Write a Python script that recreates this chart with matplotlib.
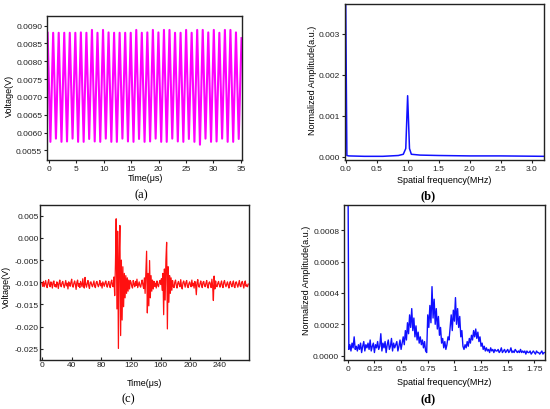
import numpy as np
import matplotlib
matplotlib.use('Agg')
from matplotlib import pyplot as plt
from matplotlib.ticker import FormatStrFormatter, FuncFormatter

plt.rcParams['font.family'] = ['Liberation Sans', 'DejaVu Sans']
plt.rcParams['axes.unicode_minus'] = False

# (a) time signal: alternating peaks / troughs, values in 1e-5 V
a_t0, a_step = -0.24, 0.505
a_peaks = [880, 880, 880, 880, 880, 880, 881, 880, 888, 880, 888, 881,
           880, 880, 880, 880, 888, 880, 881, 888, 881, 888, 888, 880,
           880, 888, 880, 888, 888, 881, 888, 880, 888, 888, 881, 865]
a_troughs = [574, 583, 574, 575, 583, 574, 574, 582, 575, 574, 583, 574,
             574, 583, 575, 574, 582, 574, 575, 583, 574, 574, 583, 575,
             574, 582, 574, 566, 583, 574, 575, 583, 574, 574, 582]

# (b) spectrum of (a)
b_freq = [0.0, 0.02, 0.05, 0.3, 0.6, 0.85, 0.93, 0.97, 1.0, 1.03, 1.06,
          1.2, 1.5, 2.0, 2.5, 3.2]
b_amp = [0.0040, 0.00003, 0.00002, 0.00001, 0.00001, 0.00003, 0.00006,
         0.0002, 0.00149, 0.0002, 0.00006, 0.00004, 0.00003, 0.00002,
         0.00002, 0.00001]

# (c) received signal, 1 us per sample, values in mV
c_mv = [
    -10.2, -10.9, -9.8, -11.0, -10.3, -9.6, -10.8, -11.2, -10.1, -9.4, -10.6, -11.0, -9.9, -10.4, -11.3, -10.0, -9.7, -10.9, -10.5, -11.1,
    -9.9, -10.3, -11.4, -10.2, -9.5, -10.7, -11.0, -10.1, -9.8, -10.6, -11.2, -10.4, -9.6, -10.8, -10.2, -11.5, -9.9, -10.3, -10.9, -10.0,
    -9.3, -10.8, -11.1, -10.2, -9.7, -10.5, -11.6, -10.0, -9.5, -10.9, -10.3, -11.2, -9.8, -10.4, -11.0, -9.2, -10.7, -11.3, -8.9, -10.5,
    -11.1, -10.2, -9.6, -10.8, -11.4, -10.0, -9.9, -10.6, -11.0, -10.3, -9.7, -10.9, -11.2, -10.1, -9.8, -10.5, -11.0, -10.4, -9.6, -10.8,
    -10.2, -11.3, -9.9, -10.4, -10.9, -10.1, -9.7, -10.6, -11.1, -10.3, -9.8, -10.7, -11.2, -10.0, -9.5, -10.8, -11.0, -8.8, -13.0, -6.0,
    4.3, -16.0, 1.5, -24.9, -4.5, 2.8, -22.0, -5.0, -18.5, -6.5, -15.5, -8.0, -13.5, -8.5, -12.5, -9.0, -12.0, -9.5, -11.5, -9.6,
    -10.0, -10.9, -11.3, -9.6, -10.4, -11.0, -9.8, -10.7, -9.3, -11.2, -10.5, -9.9, -10.8, -11.1, -10.2, -9.5, -10.6, -11.4, -9.0, -12.5,
    -7.5, -3.0, -16.9, -8.0, -15.3, -5.1, -13.5, -8.5, -12.0, -9.5,
    -11.5, -9.8, -10.9, -10.2, -11.3, -9.7, -10.6, -11.0, -10.1, -9.6,
    -10.5, -9.2, -11.8, -8.0, -17.3, -7.0, -14.0, -5.1, -1.0, -20.5, -6.5, -14.5, -8.5, -12.5, -9.0, -11.8,
    -9.6, -10.9, -11.2, -10.0, -9.5, -10.7, -11.3, -10.2, -9.8, -10.6, -11.0, -9.4, -10.8, -11.5, -10.1, -9.7, -10.4, -11.1, -10.0, -9.6, -10.9, -11.2, -10.3, -9.9,
    -10.6, -11.0, -9.5, -10.8, -10.2, -11.3, -9.8, -10.5, -12.8, -10.0, -9.4, -10.9, -11.1, -10.3, -9.7, -10.6, -11.2, -10.0, -9.8, -10.7,
    -11.0, -10.2, -9.6, -10.9, -11.3, -10.1, -9.9, -10.5, -11.2, -9.3, -10.8, -14.1, -8.6, -11.5, -9.7, -10.9, -11.0, -10.2, -9.8, -10.6,
    -11.1, -10.3, -9.7, -10.8, -11.2, -10.0, -9.6, -10.5, -11.0, -10.4, -9.9, -10.7, -11.3, -10.1, -9.8, -10.6, -11.0, -10.2, -9.7, -10.9,
    -11.2, -10.0, -9.9, -10.6, -11.1, -10.3, -9.6, -10.8, -11.0, -10.1, -9.8, -10.5, -11.3, -10.2, -9.7, -10.9, -10.6, -11.0, -10.4,
]

# (d) spectrum of (c), 0.01 MHz per sample, values in 1e-5
d_amp = [
    150, 4, 7, 3, 8, 5, 12, 4, 6, 3,
    7, 4, 8, 2, 6, 9, 3, 7, 5, 8,
    4, 10, 3, 6, 8, 2, 7, 5, 9, 4,
    6, 14, 3, 8, 5, 9, 2, 7, 10, 4,
    6, 11, 3, 8, 5, 7, 9, 3, 6, 10,
    4, 8, 12, 7, 16, 10, 21, 14, 26, 18,
    30, 16, 24, 12, 19, 10, 15, 8, 12, 7,
    10, 5, 9, 3, 2, 26, 18, 32, 21, 44,
    24, 36, 20, 30, 17, 25, 13, 18, 8, 11,
    5, 9, 4, 7, 12, 10, 18, 26, 16, 29,
    22, 37, 20, 30, 18, 25, 12, 16, 6, 4,
    7, 5, 9, 6, 11, 8, 13, 10, 16, 12,
    17, 11, 15, 9, 12, 6, 8, 4, 6, 3,
    5, 3, 4, 2, 5, 3, 4, 2, 4, 3,
    3, 4, 2, 3, 5, 2, 3, 4, 2, 3,
    4, 2, 3, 5, 2, 3, 2, 4, 3, 2,
    3, 2, 4, 2, 3, 2, 3, 1, 3, 2,
    2, 3, 1, 2, 3, 2, 1, 3, 2, 2,
    1, 2, 3, 1, 2, 2,
]

fig = plt.figure(figsize=(5.5, 4.1), dpi=100)


def style(ax, direction='out'):
    for s in ax.spines.values():
        s.set_linewidth(1.0)
        s.set_color('#222222')
    ax.tick_params(direction=direction, length=2.5, width=0.8, labelsize=6,
                   pad=1, colors='#222222')


# (a)
ax1 = fig.add_axes([0.0855, 0.6073, 0.3545, 0.3512])
a_vals = []
for i in range(len(a_peaks)):
    a_vals.append(a_peaks[i])
    if i < len(a_troughs):
        a_vals.append(a_troughs[i])
a_vals = np.array(a_vals) * 1e-5
a_time = a_t0 + np.arange(len(a_vals)) * a_step
ax1.plot(a_time, a_vals, color='#ff00ff', lw=1.5)
ax1.set_xlim(-0.35, 35.2)
ax1.set_ylim(0.00523, 0.00927)
ax1.set_xticks(np.arange(0, 36, 5))
ax1.set_yticks(np.arange(0.0055, 0.00901, 0.0005))
ax1.yaxis.set_major_formatter(FormatStrFormatter('%.4f'))
ax1.set_xlabel('Time(\u03bcs)', fontsize=6.5)
ax1.set_ylabel('Voltage(V)', fontsize=6.5)
ax1.xaxis.set_label_coords(0.506, -0.09)
ax1.yaxis.set_label_coords(-0.169, 0.45)
style(ax1)

# (b)
ax2 = fig.add_axes([0.6273, 0.6073, 0.3618, 0.3805])
ax2.plot(b_freq, b_amp, color='#1010ff', lw=1.1)
ax2.set_xlim(-0.01, 3.2)
ax2.set_ylim(-0.00008, 0.00373)
ax2.set_xticks(np.arange(0, 3.01, 0.5))
ax2.set_yticks([0.0, 0.001, 0.002, 0.003])
ax2.xaxis.set_major_formatter(FormatStrFormatter('%.1f'))
ax2.yaxis.set_major_formatter(FormatStrFormatter('%.3f'))
ax2.set_xlabel('Spatial frequency(MHz)', fontsize=6.5)
ax2.set_ylabel('Normalized Amplitude(a.u.)', fontsize=6.5)
ax2.xaxis.set_label_coords(0.5, -0.096)
ax2.yaxis.set_label_coords(-0.14, 0.52)
style(ax2)

# (c)
ax3 = fig.add_axes([0.0727, 0.1195, 0.38, 0.378])
c_time = np.arange(len(c_mv))
ax3.plot(c_time, np.array(c_mv) * 1e-3, color='#ff1010', lw=0.9)
ax3.set_xlim(-2.7, 279)
ax3.set_ylim(-0.0275, 0.0074)
ax3.set_xticks(np.arange(0, 241, 40))
ax3.set_yticks(np.arange(-0.025, 0.0051, 0.005))
ax3.yaxis.set_major_formatter(FormatStrFormatter('%.3f'))
ax3.set_xlabel('Time(\u03bcs)', fontsize=6.5)
ax3.set_ylabel('Voltage(V)', fontsize=6.5)
ax3.xaxis.set_label_coords(0.5, -0.116)
ax3.yaxis.set_label_coords(-0.139, 0.48)
style(ax3, 'in')

# (d)
ax4 = fig.add_axes([0.6255, 0.1195, 0.3655, 0.378])
d_freq = np.arange(len(d_amp)) * 0.01
ax4.plot(d_freq, np.array(d_amp) * 1e-5, color='#1010ff', lw=1.0)
ax4.set_xlim(-0.035, 1.85)
ax4.set_ylim(-0.0000275, 0.00096)
ax4.set_xticks([0, 0.25, 0.5, 0.75, 1, 1.25, 1.5, 1.75])
ax4.set_yticks(np.arange(0, 0.00081, 0.0002))
ax4.xaxis.set_major_formatter(FuncFormatter(lambda v, p: '{:g}'.format(round(v, 2))))
ax4.yaxis.set_major_formatter(FormatStrFormatter('%.4f'))
ax4.set_xlabel('Spatial frequency(MHz)', fontsize=6.5)
ax4.set_ylabel('Normalized Amplitude(a.u.)', fontsize=6.5)
ax4.xaxis.set_label_coords(0.5, -0.11)
ax4.yaxis.set_label_coords(-0.165, 0.52)
style(ax4)

serif = ['Liberation Serif', 'DejaVu Serif']
fig.text(0.2564, 0.5244, '(a)', ha='center', va='center', fontsize=9, family=serif)
fig.text(0.778, 0.522, '(b)', ha='center', va='center', fontsize=9, family=serif, weight='bold')
fig.text(0.2327, 0.0268, '(c)', ha='center', va='center', fontsize=9, family=serif)
fig.text(0.778, 0.0268, '(d)', ha='center', va='center', fontsize=9, family=serif, weight='bold')

fig.savefig('out.png', dpi=100)
